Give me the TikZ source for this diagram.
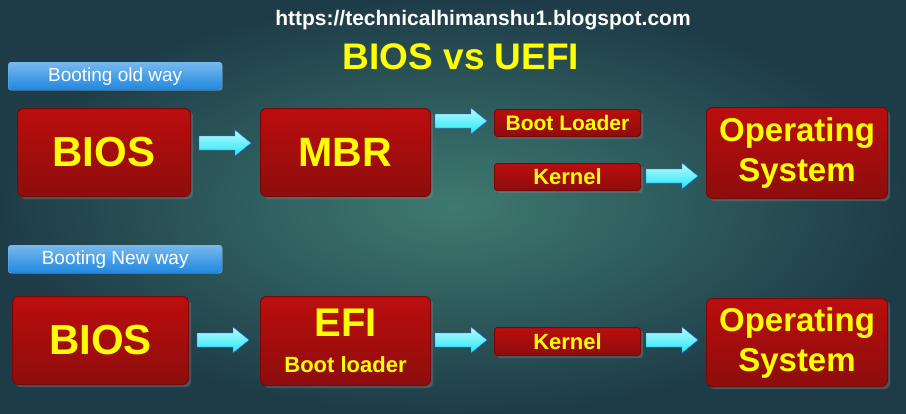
\documentclass[tikz,border=0pt]{standalone}
\usepackage{fontspec}
\setmainfont{Liberation Sans}
\usetikzlibrary{shadows}
\definecolor{bgc}{HTML}{3E7A70}
\definecolor{bge}{HTML}{1E3C48}
\definecolor{boxr}{HTML}{B01010}
\definecolor{boxd}{HTML}{7A0808}
\definecolor{ylw}{HTML}{FFFF00}
\definecolor{cyn}{HTML}{20E8F8}
\definecolor{tagb}{HTML}{1E88E0}
\tikzset{
 redbox/.style={draw=boxd,line width=1pt,rounded corners=6pt,top color=boxr!85!red,bottom color=boxr!80!black,
   text=ylw,font=\bfseries,align=center,anchor=north west,inner sep=0pt,drop shadow={opacity=0.4}},
 tag/.style={draw=tagb!60!white,rounded corners=3pt,top color=tagb!60!white,bottom color=tagb,text=white,
   font=\fontsize{19}{21}\selectfont,anchor=north west,inner sep=0pt,minimum width=214pt,minimum height=28pt},
 barrow/.style={draw=cyn!50!blue,top color=cyn!30!white,bottom color=cyn}
}
\newcommand{\blockarrow}[2]{% x y (left end, center)
 \path[barrow] (#1,#2-7) -- ++(36,0) -- ++(0,-6) -- ++(16,13) -- ++(-16,13) -- ++(0,-6) -- ++(-36,0) -- cycle;}
\begin{document}
\begin{tikzpicture}[x=1pt,y=-1pt]
\shade[inner color=bgc,outer color=bge] (0,0) rectangle (906,413);
\useasboundingbox (0,0) rectangle (906,413);
\node[text=white,font=\bfseries\fontsize{21}{23}\selectfont] (url) at (483,20) {https://technicalhimanshu1.blogspot.com};
\node[text=ylw,font=\bfseries\fontsize{37}{40}\selectfont] (title) at (461,57) {BIOS vs UEFI};
\node[tag] (t1) at (8,62) {Booting old way};
\node[tag] (t2) at (8,245) {Booting New way};
% row 1
\node[redbox,minimum width=173pt,minimum height=88pt,font=\bfseries\fontsize{42}{44}\selectfont] (b1) at (17,108) {BIOS};
\node[redbox,minimum width=170pt,minimum height=88pt,font=\bfseries\fontsize{41}{44}\selectfont] (m1) at (260,108) {MBR};
\node[redbox,minimum width=146pt,minimum height=27pt,rounded corners=3pt,font=\bfseries\fontsize{21}{23}\selectfont] (bl1) at (494,109) {Boot Loader};
\node[redbox,minimum width=146pt,minimum height=27pt,rounded corners=3pt,font=\bfseries\fontsize{22}{24}\selectfont] (k1) at (494,163) {Kernel};
\node[redbox,minimum width=181pt,minimum height=91pt,font=\bfseries\fontsize{33}{40}\selectfont] (os1) at (706,107) {Operating\\System};
\blockarrow{199}{143}
\blockarrow{435}{121}
\blockarrow{646}{176}
% row 2
\node[redbox,minimum width=176pt,minimum height=88pt,font=\bfseries\fontsize{42}{44}\selectfont] (b2) at (12,296) {BIOS};
\node[redbox,minimum width=170pt,minimum height=89pt,font=\bfseries\fontsize{40}{40}\selectfont] (e2) at (260,296) {EFI\\[-4pt]{\fontsize{22}{24}\selectfont Boot loader}};
\node[redbox,minimum width=146pt,minimum height=28pt,rounded corners=3pt,font=\bfseries\fontsize{22}{24}\selectfont] (k2) at (494,327) {Kernel};
\node[redbox,minimum width=181pt,minimum height=88pt,font=\bfseries\fontsize{33}{40}\selectfont] (os2) at (706,298) {Operating\\System};
\blockarrow{197}{340}
\blockarrow{435}{340}
\blockarrow{646}{340}
\end{tikzpicture}
\end{document}
